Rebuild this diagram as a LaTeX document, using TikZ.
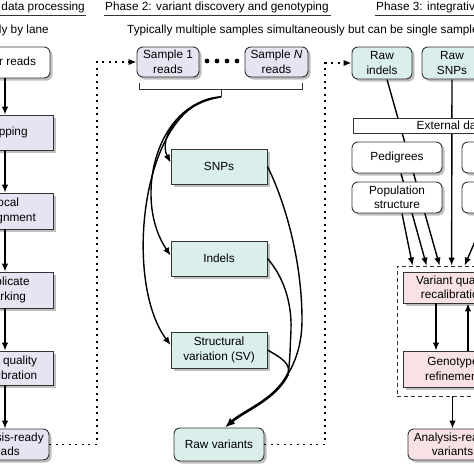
\documentclass[tikz,border=0pt]{standalone}
\usepackage{fontspec}
\setmainfont{Liberation Sans}
\usetikzlibrary{arrows.meta,shadows,calc}
\pgfdeclarelayer{bg}
\pgfsetlayers{bg,main}
\definecolor{lav}{HTML}{E6E4F2}
\definecolor{tealb}{HTML}{DAEEEC}
\definecolor{pinkb}{HTML}{F8E2E6}
\definecolor{bord}{HTML}{333333}
\begin{document}
\begin{tikzpicture}[x=1pt,y=-1pt,
  txt/.style={font=\fontsize{11.8}{14.5}\selectfont, inner sep=0pt},
  box/.style={txt, draw=bord, line width=0.9pt, align=center,
    drop shadow={shadow xshift=2.5pt, shadow yshift=-2.5pt, opacity=0.25, fill=black}},
  sqbox/.style={box, rectangle},
  rndbox/.style={box, rectangle, rounded corners=6pt},
  arr/.style={line width=1.4pt, -{Latex[length=8pt,width=6.5pt]}},
  dotc/.style={line width=1.7pt, dash pattern=on 2pt off 4.5pt, -{Latex[length=8pt,width=6.5pt]}},
  uline/.style={line width=0.9pt, bord},
]
\useasboundingbox (0,0) rectangle (474,474);
\clip (0,0) rectangle (474,474);

% headers
\node[txt, anchor=base east] (h1) at (85,10.5) {Phase 1: NGS data processing};
\node[txt, anchor=base west] (h2) at (105,10.5) {Phase 2: variant discovery and genotyping};
\node[txt, anchor=base west] (h3) at (376,10.5) {Phase 3: integrative analysis};
\draw[uline] ([yshift=-2.5pt]h1.south west) -- ([xshift=1pt,yshift=-2.5pt]h1.south east);
\draw[uline] ([xshift=-1pt,yshift=-2.5pt]h2.south west) -- ([xshift=2pt,yshift=-2.5pt]h2.south east);
\draw[uline] ([xshift=-1pt,yshift=-2.5pt]h3.south west) -- ([yshift=-2.5pt]h3.south east);
\node[txt, anchor=base east] (sub1) at (49,33) {Typically by lane};
\node[txt, anchor=base west] (sub2) at (127,33) {Typically multiple samples simultaneously but can be single sample};

% phase 1
\node[rndbox, fill=white, minimum width=118pt, minimum height=31pt] (rr) at (-9,62.5) {Sequencer reads};
\node[sqbox, fill=lav, minimum width=96pt, minimum height=35pt] (map) at (5,132.5) {Mapping};
\node[sqbox, fill=lav, minimum width=96pt, minimum height=36pt] (lr) at (5,211) {Local\\realignment};
\node[sqbox, fill=lav, minimum width=96pt, minimum height=36pt] (dm) at (5,290) {Duplicate\\marking};
\node[sqbox, fill=lav, minimum width=96pt, minimum height=34pt] (bq) at (5,368) {Base quality\\recalibration};
\node[rndbox, fill=lav, minimum width=88pt, minimum height=31pt] (ardy) at (5,444.5) {Analysis-ready\\reads};
\draw[arr] (map.north |- rr.south) -- (map.north);
\draw[arr] (map.south) -- (lr.north);
\draw[arr] (lr.south) -- (dm.north);
\draw[arr] (dm.south) -- (bq.north);
\draw[arr] (bq.south) -- (ardy.north);

% phase 2
\node[rndbox, fill=lav, minimum width=62pt, minimum height=30pt] (sa) at (168,62) {Sample 1\\reads};
\node[rndbox, fill=lav, minimum width=63pt, minimum height=30pt] (sn) at (276.5,62) {Sample \textit{N}\\reads};
\foreach \i/\x in {1/207,2/217,3/227,4/237}
  \node[circle, fill=black, inner sep=0pt, minimum size=4.8pt] (dot\i) at (\x,61) {};
\node[sqbox, fill=tealb, minimum width=96pt, minimum height=35pt] (snp) at (219,166.5) {SNPs};
\node[sqbox, fill=tealb, minimum width=96pt, minimum height=35pt] (ind) at (219,258.5) {Indels};
\node[sqbox, fill=tealb, minimum width=96pt, minimum height=36pt] (sv) at (219,350) {Structural\\variation (SV)};
\node[rndbox, fill=tealb, minimum width=90pt, minimum height=33pt] (rv) at (219,444.5) {Raw variants};

\coordinate (br) at (221,97);
\draw[line width=1pt, bord] (139,83) -- (139,89) -- (302,89) -- (302,83);
\draw[line width=1pt, bord] (221,89) -- (br);
\draw[arr] (br) .. controls (180,103) and (158,138) .. ([yshift=4pt]snp.west);
\draw[arr] (br) .. controls (155,102) and (133,200) .. ([yshift=3pt]ind.west);
\draw[arr] (br) .. controls (142,100) and (122,280) .. ([yshift=5pt]sv.west);

\coordinate (m) at (288,374);
\draw[line width=1.4pt] (snp.east) .. controls (282,195) and (302,255) .. (302,320) .. controls (302,345) and (295,362) .. (m);
\draw[line width=1.4pt] (ind.east) .. controls (282,275) and (292,300) .. (291,330) .. controls (290,350) and (290,362) .. (m);
\draw[line width=1.4pt] (sv.east) .. controls (282,358) and (291,364) .. (m);
\draw[line width=2.6pt, -{Latex[length=10pt,width=8pt]}] (m) .. controls (275,400) and (245,410) .. ([xshift=6pt]rv.north);

% phase 3
\node[rndbox, fill=tealb, minimum width=60pt, minimum height=32pt] (ri) at (382,63) {Raw\\indels};
\node[rndbox, fill=tealb, minimum width=60pt, minimum height=32pt] (rs) at (452,63) {Raw\\SNPs};
\node[txt, draw=bord, line width=0.6pt, fill=white, minimum width=197pt, minimum height=15pt] (ext) at (451.5,125.5) {External data};
\node[rndbox, fill=white, minimum width=90pt, minimum height=31pt] (ped) at (397,157.5) {Pedigrees};
\node[rndbox, fill=white, minimum width=90pt, minimum height=31pt] (pop) at (397,197.5) {Population\\structure};
\node[rndbox, fill=white, minimum width=90pt, minimum height=31pt] (kv) at (507,157.5) {};
\node[rndbox, fill=white, minimum width=90pt, minimum height=31pt] (kg) at (507,197.5) {};
\node[draw=bord, dash pattern=on 4pt off 3pt, line width=0.8pt, minimum width=118pt, minimum height=130pt, inner sep=0pt] (grp) at (456,331) {};
\node[sqbox, fill=pinkb, minimum width=100pt, minimum height=31pt] (vqr) at (453,287.5) {Variant quality\\recalibration};
\node[sqbox, fill=pinkb, minimum width=100pt, minimum height=36pt] (gr) at (453,369) {Genotype\\refinement};
\node[rndbox, fill=pinkb, minimum width=89pt, minimum height=31pt] (arv) at (452.5,444.5) {Analysis-ready\\variants};
\draw[arr] ([xshift=-17pt]vqr.south) -- ([xshift=-17pt]gr.north);
\draw[arr] ([xshift=15pt]gr.north) -- ([xshift=15pt]vqr.south);
\draw[arr] (arv.north |- grp.south) -- (arv.north);

% dotted connectors
\coordinate (c1) at (97,250);
\coordinate (c2) at (325,250);
\draw[dotc] (ardy.east) -| (c1) |- (sa.west);
\draw[dotc] (rv.east) -| (c2) |- (ri.west);

\begin{pgfonlayer}{bg}
\clip (0,0) rectangle (474,474);
\draw[arr] ([xshift=5pt]ri.south) -- ([xshift=43pt]grp.north west);
\draw[arr] ([xshift=4pt]ped.south) -- ([xshift=30pt]grp.north west);
\draw[arr] ([xshift=5pt]pop.south) -- ([xshift=16pt]grp.north west);
\draw[arr] (rs.south) -- ([xshift=55pt]grp.north west);
\draw[arr] ([xshift=-20pt]kg.south) -- ([xshift=68pt]grp.north west);
\end{pgfonlayer}
\end{tikzpicture}
\end{document}
